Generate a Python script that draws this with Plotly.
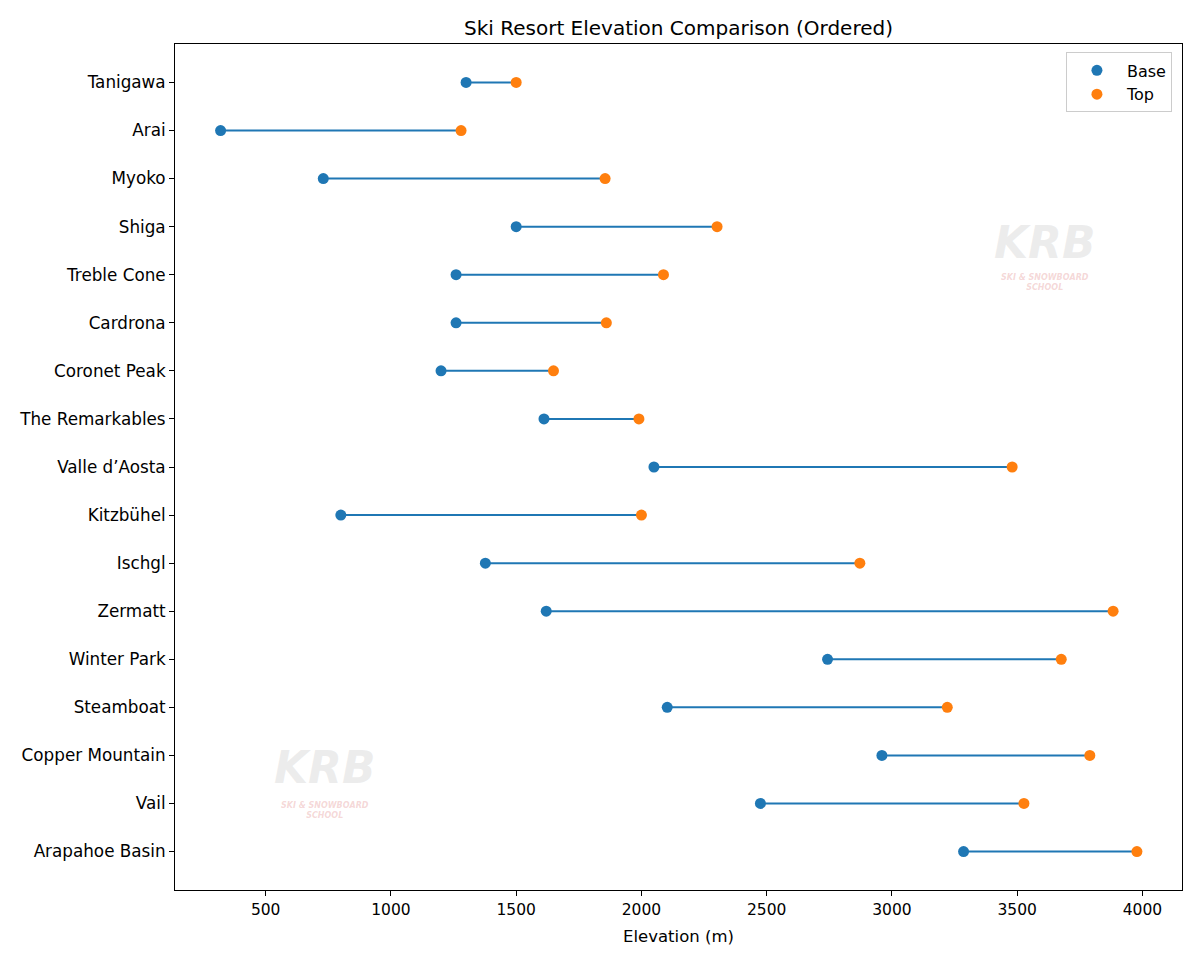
import plotly.graph_objects as go

resorts = ["Arapahoe Basin", "Vail", "Copper Mountain", "Steamboat", "Winter Park",
           "Zermatt", "Ischgl", "Kitzbühel", "Valle d’Aosta", "The Remarkables",
           "Coronet Peak", "Cardrona", "Treble Cone", "Shiga", "Myoko", "Arai", "Tanigawa"]
base_elev = [3286, 2475, 2960, 2103, 2743, 1620, 1377, 800, 2050, 1611,
             1200, 1260, 1260, 1500, 730, 320, 1300]
top_elev = [3978, 3527, 3790, 3221, 3676, 3883, 2872, 2000, 3480, 1990,
            1649, 1860, 2088, 2302, 1855, 1280, 1500]
x_ticks = [500, 1000, 1500, 2000, 2500, 3000, 3500, 4000]

FONT = "DejaVu Sans"
BLUE = "#1f77b4"
ORANGE = "#ff7f0e"

lx, ly = [], []
for r, b, t in zip(resorts, base_elev, top_elev):
    lx += [b, t, None]
    ly += [r, r, None]

fig = go.Figure()
fig.add_trace(go.Scatter(x=lx, y=ly, mode="lines", line=dict(color=BLUE, width=2),
                         showlegend=False, hoverinfo="skip"))
fig.add_trace(go.Scatter(x=base_elev, y=resorts, mode="markers", name="Base",
                         marker=dict(color=BLUE, size=11)))
fig.add_trace(go.Scatter(x=top_elev, y=resorts, mode="markers", name="Top",
                         marker=dict(color=ORANGE, size=11)))

# faint watermark logos (approximation)
for cx, cy, sy in [(0.864, 0.765, 0.718), (0.149, 0.145, 0.094)]:
    fig.add_annotation(xref="paper", yref="paper", x=cx, y=cy, xanchor="center", yanchor="middle",
                       text="<b><i>KRB</i></b>", showarrow=False,
                       font=dict(family=FONT, size=44, color="rgba(180,180,180,0.25)"))
    fig.add_annotation(xref="paper", yref="paper", x=cx, y=sy, xanchor="center", yanchor="middle",
                       text="<b><i>SKI &amp; SNOWBOARD<br>SCHOOL</i></b>",
                       showarrow=False, font=dict(family=FONT, size=8, color="rgba(220,120,120,0.3)"))

fig.update_layout(
    width=1200, height=960,
    margin=dict(l=175, r=18, t=44, b=70),
    paper_bgcolor="white", plot_bgcolor="white",
    font=dict(family=FONT, size=16, color="black"),
    title=dict(text="Ski Resort Elevation Comparison (Ordered)", x=(175 + 1182) / 2 / 1200,
               xanchor="center", y=1 - 28 / 960, yanchor="middle",
               font=dict(family=FONT, size=20, color="black")),
    legend=dict(x=0.99, y=0.99, xanchor="right", yanchor="top", itemwidth=50,
                bgcolor="rgba(255,255,255,0.8)", bordercolor="#cccccc", borderwidth=1,
                font=dict(family=FONT, size=16)),
    xaxis=dict(range=[138, 4158], tickvals=x_ticks, ticks="outside", ticklen=5,
               tickcolor="black", showline=True, linecolor="black", linewidth=1, mirror=True,
               showgrid=False, zeroline=False,
               title=dict(text="Elevation (m)", font=dict(family=FONT, size=16.5), standoff=12),
               tickfont=dict(family=FONT, size=15.5)),
    yaxis=dict(type="category", categoryorder="array", categoryarray=resorts,
               range=[-0.8, 16.8], ticks="outside", ticklen=5, tickcolor="black",
               showline=True, linecolor="black", linewidth=1, mirror=True, showgrid=False,
               tickfont=dict(family=FONT, size=16.8)),
)

fig.write_html("out.html")
